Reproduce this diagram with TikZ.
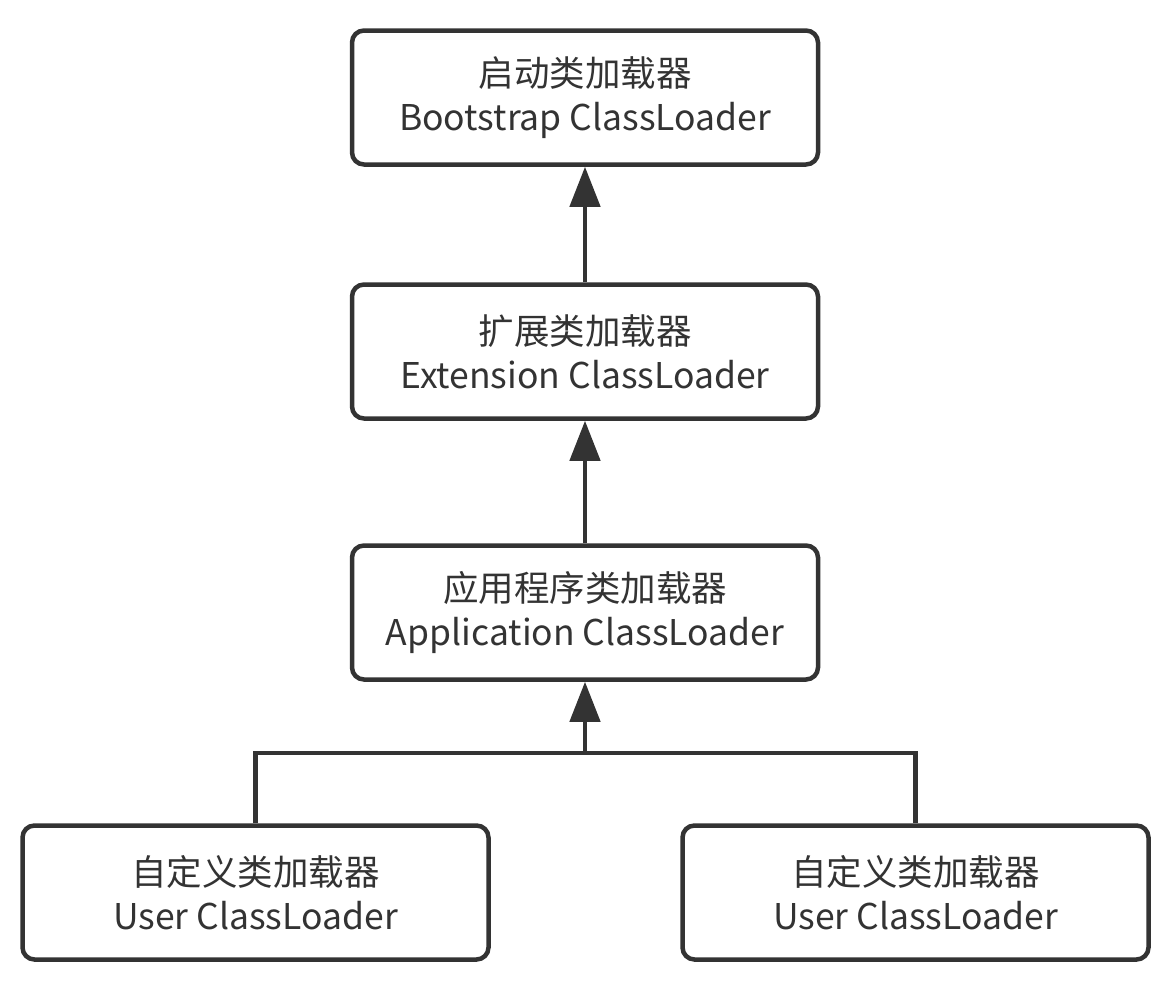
\documentclass[tikz,border=0pt]{standalone}
\usepackage{fontspec}
\setmainfont{Noto Sans CJK SC}
\usetikzlibrary{arrows.meta}

\definecolor{linegray}{HTML}{333333}

\begin{document}
\begin{tikzpicture}[x=1pt,y=-1pt,
  loader/.style={draw=linegray,line width=4.5pt,rounded corners=12pt,
    minimum width=466pt,minimum height=134pt,align=center,
    font=\fontsize{35.5}{44}\selectfont,text=linegray},
  parent/.style={draw=linegray,line width=4.5pt,-{Triangle[length=40pt,width=30pt]}}]
\useasboundingbox (0,0) rectangle (1165,1001);
\node[loader] (boot) at (585,97.5) {启动类加载器\\Bootstrap ClassLoader};
\node[loader] (ext) at (585,351.5) {扩展类加载器\\Extension ClassLoader};
\node[loader] (app) at (585,612.5) {应用程序类加载器\\Application ClassLoader};
\node[loader] (user1) at (255.5,892.5) {自定义类加载器\\User ClassLoader};
\node[loader] (user2) at (915.5,892.5) {自定义类加载器\\User ClassLoader};
\coordinate (fork) at (585,753);
\draw[parent] (ext) -- (boot);
\draw[parent] (app) -- (ext);
\draw[draw=linegray,line width=4.5pt] (user1.north) |- (fork) -| (user2.north);
\draw[parent] (fork) -- (app);
\end{tikzpicture}
\end{document}
